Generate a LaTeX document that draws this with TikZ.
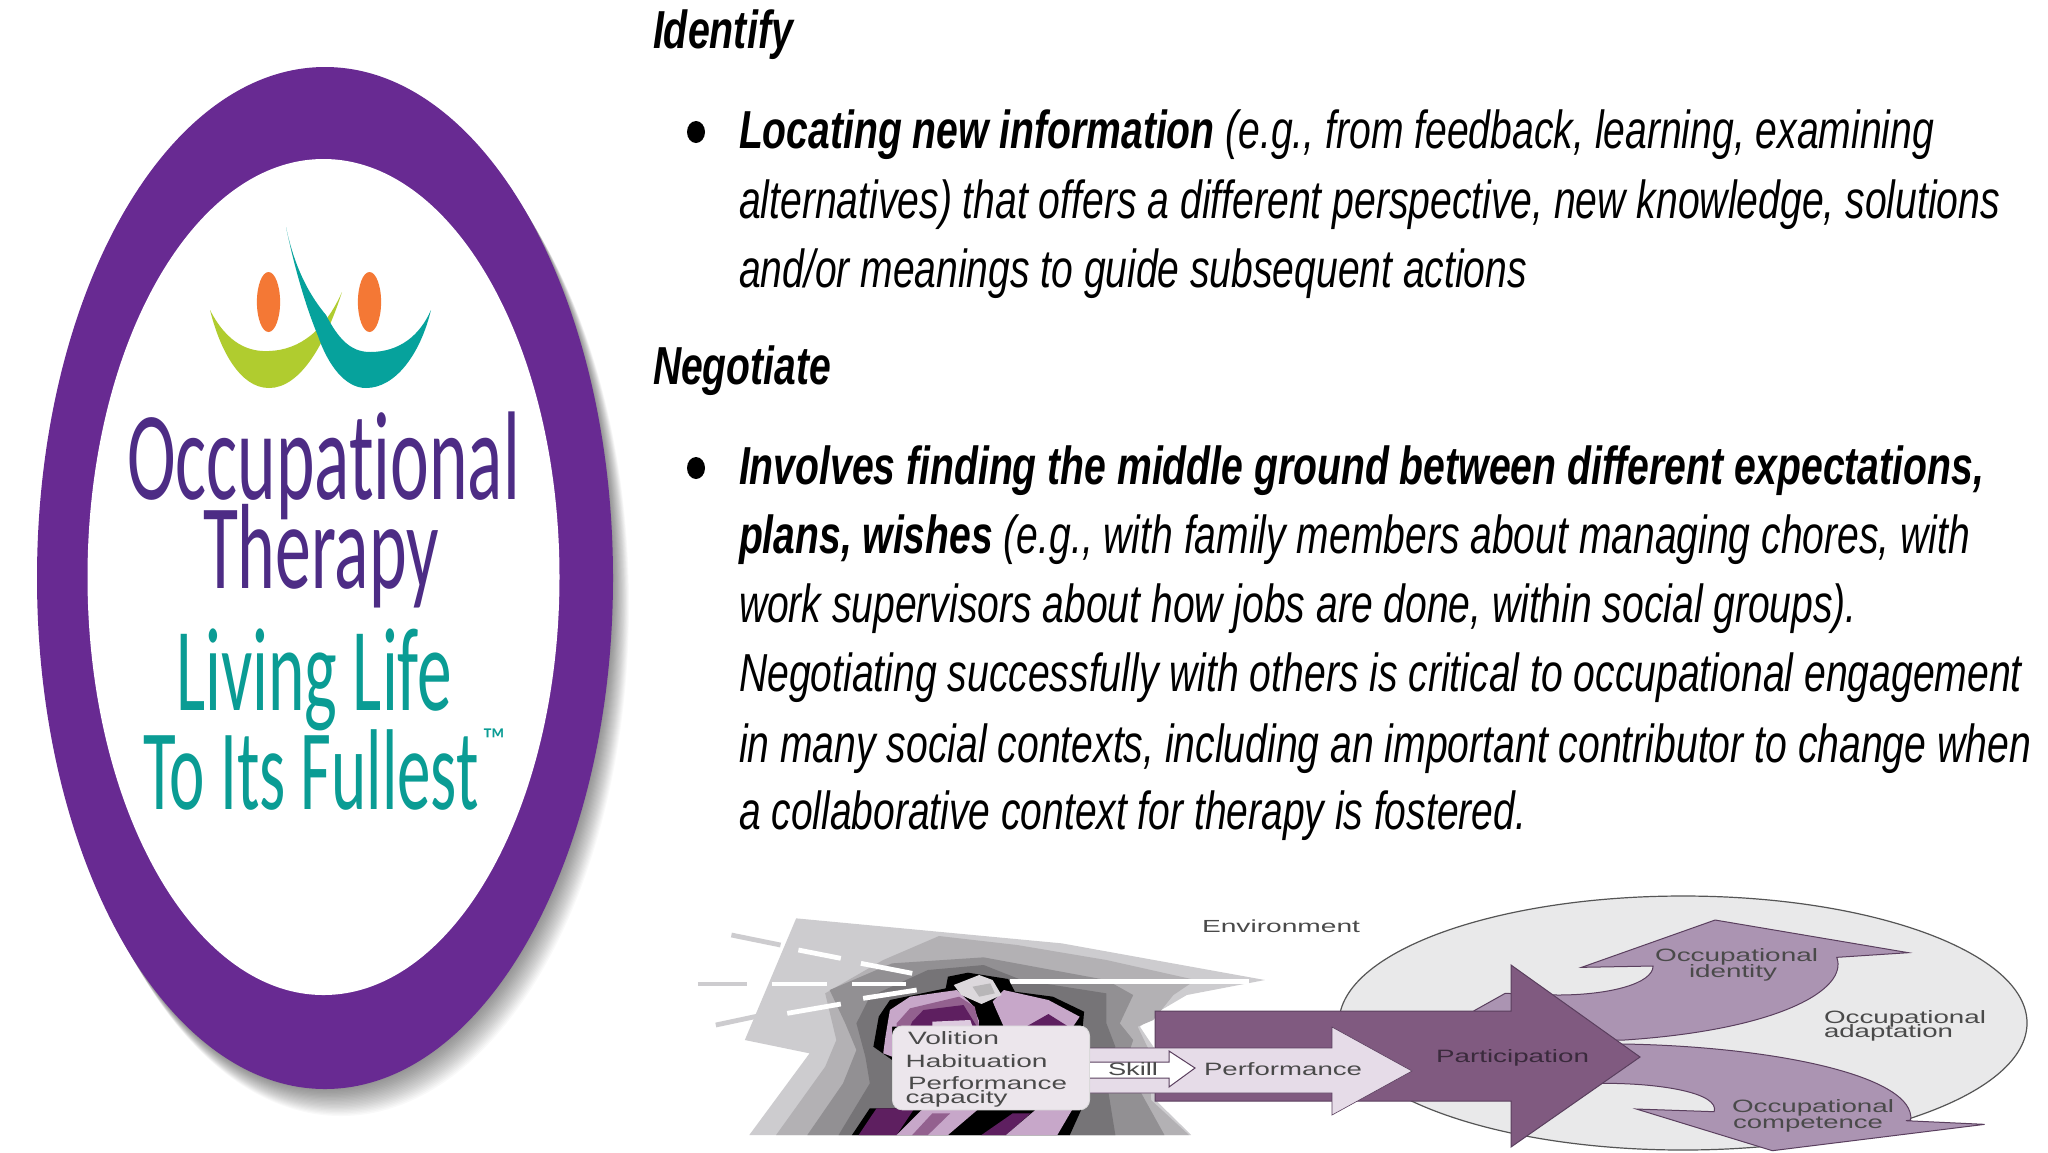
\documentclass[tikz,border=0pt]{standalone}
\usepackage{fontspec}
\usepackage{graphicx}
\setmainfont{Liberation Sans}
\newfontfamily\logofont[Ligatures=NoCommon]{Carlito}
\usetikzlibrary{shapes.geometric}
\definecolor{ring}{HTML}{682A92}
\definecolor{logopurple}{HTML}{4D2C85}
\definecolor{logoteal}{HTML}{0A9C94}
\definecolor{smileteal}{HTML}{06A29C}
\definecolor{smilegreen}{HTML}{B0CC2F}
\definecolor{smileorange}{HTML}{F47835}
\definecolor{partcol}{HTML}{805A80}
\definecolor{perfcol}{HTML}{E6DCE8}
\definecolor{curlcol}{HTML}{AB94B2}
\definecolor{ovalcol}{HTML}{E9E9EA}
\definecolor{ovaledge}{HTML}{555555}
\definecolor{edgecol}{HTML}{5A3F5E}
\definecolor{lbl}{HTML}{4A4A4A}
\definecolor{partlbl}{HTML}{3A2A3C}
\definecolor{boxcol}{HTML}{ECE6EC}
\definecolor{headA}{HTML}{DCD8DC}
\definecolor{headB}{HTML}{B8B6B8}
\definecolor{gA}{HTML}{CDCCCF}
\definecolor{gB}{HTML}{B3B1B4}
\definecolor{gC}{HTML}{929093}
\definecolor{gD}{HTML}{767477}
\definecolor{figdark}{HTML}{5E1F60}
\definecolor{figmid}{HTML}{93618F}
\definecolor{figlight}{HTML}{C7A7C9}
% #1 width in px, #2 total height in px (font 20pt, strut 16pt), #3 text
\newcommand\fit[3]{\resizebox{\dimexpr#1pt/2\relax}{\dimexpr#2pt/2\relax}{\fontsize{20}{24}\selectfont\rule{0pt}{16pt}#3}}
\tikzset{
  txt/.style={inner sep=0pt,outer sep=0pt,anchor=base west},
  bodyline/.style={txt,text=black},
  logoline/.style={txt,font=\logofont},
  lab/.style={txt,text=lbl},
  curl/.style={fill=curlcol,draw=edgecol,line width=0.5pt},
  sight/.style={line width=2.4pt},
  zoomA/.style={shift={(660,880)},x=0.2232pt,y=-0.16667pt},
  zoomB/.style={shift={(1300,880)},x=0.23855pt,y=-0.16667pt},
}
\begin{document}
\begin{tikzpicture}[x=0.5pt,y=-0.5pt]
\useasboundingbox (0,0) rectangle (2048,1152);
\fill[white] (0,0) rectangle (2048,1152);
% ---------- badge
\foreach \i in {1,...,20}{
  \fill[black,opacity=0.022] (325+\i*0.8,578+\i*1.35) ellipse [x radius=144pt,y radius=255.5pt];
}
\fill[ring] (325,578) ellipse [x radius=144pt,y radius=255.5pt];
\fill[white] (323.5,577) ellipse [x radius=118pt,y radius=209pt];
\fill[smileorange] (268.5,302) ellipse [x radius=5.8pt,y radius=15pt];
\fill[smileorange] (369.5,302) ellipse [x radius=5.8pt,y radius=15pt];
\fill[smilegreen] (210,310) .. controls (228,345) and (250,352) .. (269,351)
  .. controls (300,350) and (325,330) .. (342,292)
  .. controls (325,345) and (300,388) .. (269,388)
  .. controls (240,388) and (220,350) .. (210,310) -- cycle;
\fill[smileteal] (286,227) .. controls (293,260) and (305,290) .. (326,315)
  .. controls (338,338) and (350,352) .. (370,352)
  .. controls (400,352) and (420,335) .. (431,310)
  .. controls (420,355) and (395,388) .. (366,388)
  .. controls (345,388) and (328,365) .. (318,336)
  .. controls (308,312) and (296,275) .. (286,227) -- cycle;
\node[logoline,text=logopurple] (occ) at (127,499) {\fit{393}{101}{Occupational}};
\node[logoline,text=logopurple] (ther) at (203,588) {\fit{236}{97}{Therapy}};
\node[logoline,text=logoteal] (liv) at (176,710) {\fit{276}{95}{Living Life}};
\node[logoline,text=logoteal] (full) at (143,809) {\fit{336}{92}{To Its Fullest}};
\node[logoline,text=logoteal,anchor=center] (tm) at (494,740) {\fontsize{16}{16}\selectfont ™};
% ---------- text
\node[bodyline] (h1) at (653,48) {\fit{140}{42.8}{\bfseries\itshape Identify}};
\fill[black] (696,132) ellipse [x radius=4.5pt,y radius=5.5pt];
\node[bodyline] (l1) at (739,148) {\fit{1195}{42.8}{\itshape{\bfseries Locating new information} (e.g., from feedback, learning, examining}};
\node[bodyline] (l2) at (739,218) {\fit{1261}{42.8}{\itshape alternatives) that offers a different perspective, new knowledge, solutions}};
\node[bodyline] (l3) at (739,287) {\fit{788}{42.8}{\itshape and/or meanings to guide subsequent actions}};
\node[bodyline] (h2) at (653,384) {\fit{178}{42.8}{\bfseries\itshape Negotiate}};
\fill[black] (696,468) ellipse [x radius=4.5pt,y radius=5.5pt];
\node[bodyline] (l4) at (739,484) {\fit{1245}{42.8}{\bfseries\itshape Involves finding the middle ground between different expectations,}};
\node[bodyline] (l5) at (739,553) {\fit{1231}{42.8}{\itshape{\bfseries plans, wishes} (e.g., with family members about managing chores, with}};
\node[bodyline] (l6) at (739,622) {\fit{1118}{42.8}{\itshape work supervisors about how jobs are done, within social groups).}};
\node[bodyline] (l7) at (739,691.5) {\fit{1283}{42.8}{\itshape Negotiating successfully with others is critical to occupational engagement}};
\node[bodyline] (l8) at (739,762) {\fit{1292}{42.8}{\itshape in many social contexts, including an important contributor to change when}};
\node[bodyline] (l9) at (739,829.5) {\fit{787}{42.8}{\itshape a collaborative context for therapy is fostered.}};
% ---------- environment backdrop and figure
\begin{scope}[zoomA]
  \fill[gA] (305,115) -- (900,190) -- (1355,300) -- (1180,345) -- (1110,400) -- (1075,440) -- (1110,510) -- (1110,660) -- (1190,765) -- (200,765) -- (335,520) -- (190,480) -- cycle;
  \fill[gB] (625,168) -- (800,195) -- (1000,240) -- (1200,300) -- (1150,345) -- (1105,420) -- (1070,440) -- (1095,510) -- (1100,660) -- (1185,765) -- (260,765) -- (370,560) -- (395,480) -- (370,340) -- (500,240) -- cycle;
  \fill[gC] (725,232) -- (1000,300) -- (1060,345) -- (1030,430) -- (1060,480) -- (1040,560) -- (1070,620) -- (1130,765) -- (330,765) -- (410,610) -- (440,510) -- (415,430) -- (380,330) -- (520,250) -- cycle;
  \fill[gD] (725,255) -- (810,300) -- (1000,340) -- (1000,430) -- (1020,500) -- (1000,600) -- (1020,765) -- (400,765) -- (470,610) -- (460,530) -- (440,430) -- (470,350) -- (600,270) -- cycle;
  % sight lines
  \draw[sight,gA] (160,165) -- (270,195);
  \draw[sight,white] (310,210) -- (405,235);
  \draw[sight,white] (450,250) -- (565,280);
  \draw[sight,gA] (85,312) -- (195,312);
  \draw[sight,white] (250,312) -- (375,312);
  \draw[sight,white] (430,312) -- (550,312);
  \draw[sight,gA] (125,435) -- (230,405);
  \draw[sight,white] (285,400) -- (405,372);
  \draw[sight,white] (455,355) -- (575,330);
  \draw[sight,white] (785,305) -- (1320,305);
  % figure
  \fill[black] (645,290) -- (690,278) -- (780,297) -- (795,335) -- (880,350) -- (950,395) -- (945,470) -- (520,540) -- (478,500) -- (490,410) -- (515,360) -- (640,325) -- cycle;
  \fill[figlight] (505,470) -- (515,390) -- (560,350) -- (665,330) -- (700,375) -- (720,440) -- (520,440) -- (520,530) -- (500,520) -- cycle;
  \fill[figlight] (745,365) -- (770,330) -- (870,360) -- (940,410) -- (925,440) -- (770,440) -- cycle;
  \fill[figmid] (530,430) -- (560,385) -- (670,350) -- (705,380) -- (715,440) -- (530,440) -- cycle;
  \fill[figdark] (565,425) -- (590,390) -- (680,375) -- (710,440) -- (560,440) -- cycle;
  \fill[figdark] (820,440) -- (870,402) -- (915,440) -- cycle;
  \fill[figlight!60!white] (610,425) -- (695,420) -- (700,440) -- (610,440) -- cycle;
  \fill[black] (715,370) -- (745,365) -- (765,440) -- (715,440) -- cycle;
  \fill[headA] (658,315) -- (715,285) -- (745,300) -- (765,345) -- (720,372) -- (675,345) -- cycle;
  \fill[headB] (700,320) -- (740,310) -- (750,340) -- (715,350) -- cycle;
  % legs
  \fill[black] (430,765) -- (470,685) -- (945,685) -- (918,765) -- cycle;
  \fill[figdark] (445,765) -- (485,685) -- (570,685) -- (530,765) -- cycle;
  \fill[figlight] (530,765) -- (590,685) -- (715,685) -- (645,765) -- cycle;
  \fill[figmid] (565,765) -- (610,700) -- (650,700) -- (600,765) -- cycle;
  \fill[figdark] (720,765) -- (790,700) -- (830,700) -- (775,765) -- cycle;
  \fill[figlight] (775,765) -- (845,685) -- (925,685) -- (890,765) -- cycle;
\end{scope}
% ---------- oval and curved arrows
\draw[fill=ovalcol,draw=ovaledge,line width=0.6pt] (1683,1023) ellipse [x radius=172pt,y radius=63.5pt];
\begin{scope}[zoomB]
  \draw[curl] (870,120) -- (1275,218) -- (1125,232) .. controls (1150,330) and (1000,450) .. (680,480)
    -- (400,480) -- (365,392) -- (430,340) -- (540,345)
    .. controls (650,345) and (740,310) .. (740,258) -- (590,262) -- cycle;
  \draw[curl] (680,492) .. controls (1000,500) and (1290,590) .. (1280,720) -- (1270,722) -- (1435,733) -- (990,812) -- (705,687) -- (868,695)
    .. controls (880,640) and (760,610) .. (640,610) -- (500,610) -- (500,492) -- cycle;
\end{scope}
% ---------- participation arrow
\draw[fill=partcol,draw=edgecol,line width=0.5pt] (1155,1011) -- (1511,1011) -- (1511,965) -- (1640,1057) -- (1511,1147) -- (1511,1101) -- (1155,1101) -- cycle;
% ---------- performance arrow
\draw[fill=perfcol,draw=edgecol,line width=0.3pt] (1089,1048) -- (1332,1048) -- (1332,1027) -- (1412,1071) -- (1332,1115) -- (1332,1093) -- (1089,1093) -- cycle;
% ---------- capacities box
\node[draw=white!70!gray,fill=boxcol,rounded corners=5pt,minimum width=98.6pt,minimum height=42pt,inner sep=0pt,line width=0.4pt,anchor=north west] (box) at (892,1025.5) {};
% ---------- skill arrow
\draw[fill=white,draw=edgecol,line width=0.5pt] (box.east |- 0,1062) -- (1169,1062) -- (1169,1051) -- (1195,1068) -- (1169,1087) -- (1169,1078) -- (box.east |- 0,1078);
% ---------- diagram labels
\node[lab] (env) at (1202,932) {\fit{158}{14}{Environment}};
\node[lab] (vol) at (908,1044) {\fit{91}{14.3}{Volition}};
\node[lab] (hab) at (905.5,1067) {\fit{142}{14.3}{Habituation}};
\node[lab] (pcap) at (908,1089) {\fit{159}{14.3}{Performance}};
\node[lab] (capy) at (905.5,1103) {\fit{102}{14.3}{capacity}};
\node[lab] (skl) at (1108,1075) {\fit{50}{14.3}{Skill}};
\node[lab] (perf) at (1204,1075) {\fit{158}{14.3}{Performance}};
\node[lab,text=partlbl] (part) at (1436,1062) {\fit{153}{14.3}{Participation}};
\node[lab] (oi1) at (1655,961) {\fit{163}{14.3}{Occupational}};
\node[lab] (oi2) at (1689,977) {\fit{88}{14.3}{identity}};
\node[lab] (oa1) at (1824,1023) {\fit{162}{14.3}{Occupational}};
\node[lab] (oa2) at (1824,1037) {\fit{129}{14.3}{adaptation}};
\node[lab] (oc1) at (1732,1112) {\fit{162}{14.3}{Occupational}};
\node[lab] (oc2) at (1733,1128) {\fit{150}{14.3}{competence}};
\end{tikzpicture}
\end{document}
